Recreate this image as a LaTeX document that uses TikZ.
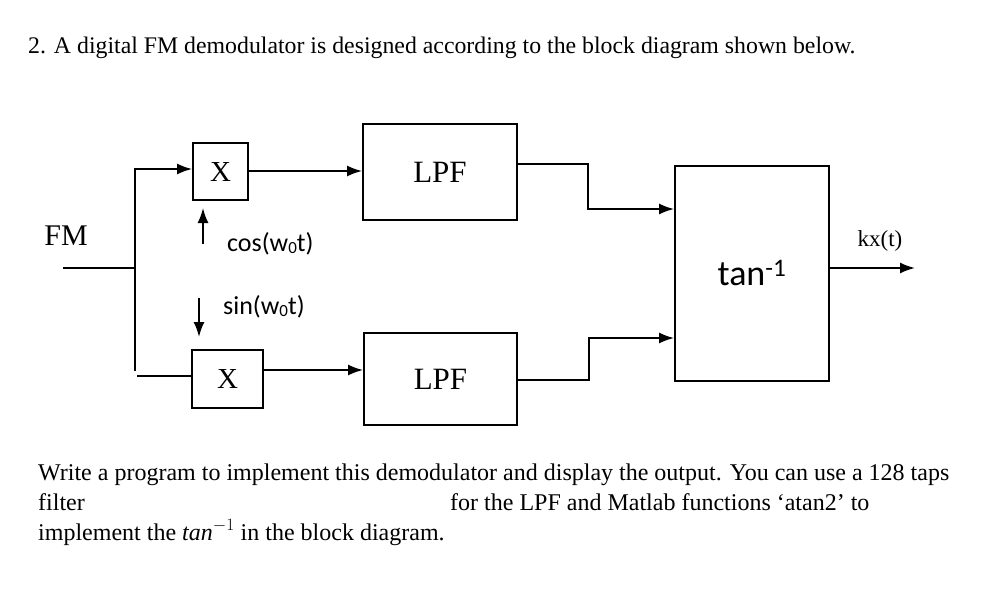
\documentclass[tikz,border=0pt]{standalone}
\usepackage{fontspec}
\setmainfont{Liberation Serif}
\newfontfamily\carl{Carlito}
\usetikzlibrary{arrows.meta}
\begin{document}
\begin{tikzpicture}[x=1pt,y=-1pt,
  blk/.style={draw,line width=1.8pt,inner sep=0pt},
  ln/.style={line width=1.8pt},
  ar/.style={ln,-{Latex[length=15pt,width=11pt]}},
  tx/.style={inner sep=0pt,anchor=base west,font=\fontsize{23.8}{28}\selectfont}]
\useasboundingbox (0,0) rectangle (983,606);
\node[tx] (title) at (28,53) {2. A digital FM demodulator is designed according to the block diagram shown below.};
\node[blk,minimum width=55pt,minimum height=57pt,font=\fontsize{29}{32}\selectfont] (x1) at (220.5,171.5) {X};
\node[blk,minimum width=71pt,minimum height=58pt,font=\fontsize{29}{32}\selectfont] (x2) at (227.5,379) {X};
\node[blk,minimum width=154pt,minimum height=96pt,font=\fontsize{31}{34}\selectfont] (l1) at (440,172) {LPF};
\node[blk,minimum width=153pt,minimum height=92pt,font=\fontsize{31}{34}\selectfont] (l2) at (440.5,379) {LPF};
\node[blk,minimum width=154pt,minimum height=215pt,font=\carl\fontsize{36}{40}\selectfont] (t) at (752,273.5) {tan\textsuperscript{-1}};
\node[font=\fontsize{30}{34}\selectfont,inner sep=0pt] (fm) at (66,236) {FM};
\coordinate (in) at (63,268);
\coordinate (j) at (135,268);
\coordinate (jt) at (135,169);
\coordinate (jb) at (135,376);
\draw[ln] (in) -- (j);
\draw[ar] (135,371) -- (jt) -- (x1.west|-jt);
\draw[ln] (137,376) -- (x2.west|-jb);
\draw[ar] (x1.east|-0,171) -- (l1.west|-0,171);
\draw[ar] (x2.east|-0,370) -- (l2.west|-0,370);
\draw[ar] (l1.east|-0,164) -- (588,164) -- (588,209) -- (t.west|-0,209);
\draw[ar] (l2.east|-0,380) -- (589,380) -- (589,338) -- (t.west|-0,338);
\coordinate (out) at (915,268);
\draw[ar] (t.east|-out) -- (out);
\node[font=\fontsize{23}{26}\selectfont,inner sep=0pt] (kx) at (880,241) {kx(t)};
\coordinate (ca) at (203,244);
\coordinate (cb) at (203,208);
\draw[ar] (ca) -- (cb);
\node[font=\carl\fontsize{26}{30}\selectfont,inner sep=0pt,anchor=west] (cos) at (227,244) {cos(w\raisebox{-0.15ex}{\fontsize{17}{19}\selectfont 0}t)};
\coordinate (sa) at (199,298);
\coordinate (sb) at (199,337);
\draw[ar] (sa) -- (sb);
\node[font=\carl\fontsize{26}{30}\selectfont,inner sep=0pt,anchor=west] (sin) at (223,307) {sin(w\raisebox{-0.15ex}{\fontsize{17}{19}\selectfont 0}t)};
\node[tx,font=\fontsize{24}{28}\selectfont] (p1) at (38,480) {Write a program to implement this demodulator and display the output. You can use a 128 taps};
\node[tx,font=\fontsize{24}{28}\selectfont] (p2) at (38,510) {filter};
\node[tx,font=\fontsize{24}{28}\selectfont] (p3) at (450,510) {for the LPF and Matlab functions ‘atan2’ to};
\node[tx,font=\fontsize{24}{28}\selectfont] (p4) at (38,540) {implement the $\mathit{tan}^{-1}$ in the block diagram.};
\end{tikzpicture}
\end{document}
